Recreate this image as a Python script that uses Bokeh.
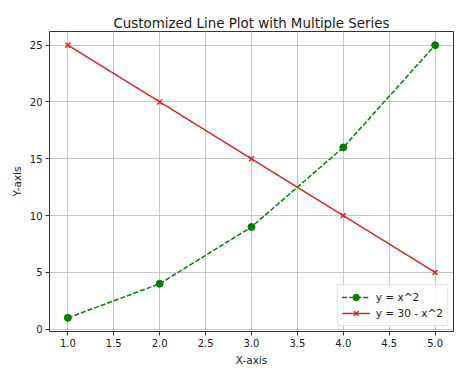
from bokeh.plotting import figure
from bokeh.models import Range1d, FixedTicker, Legend, LegendItem
from bokeh.embed import file_html
from bokeh.resources import INLINE

x = [1, 2, 3, 4, 5]
y_sq = [1, 4, 9, 16, 25]
y_dec = [25, 20, 15, 10, 5]
x_ticks = [1.0, 1.5, 2.0, 2.5, 3.0, 3.5, 4.0, 4.5, 5.0]
y_ticks = [0, 5, 10, 15, 20, 25]
title = "Customized Line Plot with Multiple Series"
labels = ["y = x^2", "y = 30 - x^2"]

FONT = "DejaVu Sans"

p = figure(width=474, height=377, output_backend="svg", toolbar_location=None,
           x_range=Range1d(0.8, 5.2), y_range=Range1d(-0.2, 26.2),
           min_border_left=49, min_border_right=21, min_border_top=31, min_border_bottom=46)
p.title.text = title
p.title.align = "center"
p.title.text_font = FONT
p.title.text_font_size = "13.4px"
p.title.text_font_style = "normal"
p.title.text_color = "#1a1a1a"
p.title.standoff = 2

p.background_fill_color = "white"
p.border_fill_color = "white"
p.outline_line_color = "#333333"
p.outline_line_width = 1

p.xaxis.ticker = FixedTicker(ticks=x_ticks)
p.yaxis.ticker = FixedTicker(ticks=y_ticks)
p.xaxis.major_label_overrides = {t: f"{t:.1f}" for t in x_ticks}
for ax in (p.xaxis[0], p.yaxis[0]):
    ax.axis_line_color = None
    ax.major_tick_in = 0
    ax.major_tick_out = 4
    ax.major_tick_line_color = "#333333"
    ax.minor_tick_line_color = None
    ax.major_label_text_font = FONT
    ax.major_label_text_font_size = "10px"
    ax.major_label_text_color = "#1a1a1a"
    ax.axis_label_text_font = FONT
    ax.axis_label_text_font_size = "10.5px"
    ax.axis_label_text_font_style = "normal"
    ax.axis_label_text_color = "#1a1a1a"
    ax.major_label_standoff = 3
    ax.axis_label_standoff = 4
p.xaxis.axis_label = "X-axis"
p.yaxis.axis_label = "Y-axis"

p.grid.grid_line_color = "#b0b0b0"
p.grid.grid_line_alpha = 0.7
p.grid.grid_line_width = 1

l1 = p.line(x, y_sq, line_color="green", line_dash="5 2", line_width=1.5)
m1 = p.scatter(x, y_sq, marker="circle", size=7, fill_color="green", line_color="green")
l2 = p.line(x, y_dec, line_color="#d62728", line_width=1.5)
m2 = p.scatter(x, y_dec, marker="x", size=7, line_color="#d62728", line_width=1.5)

legend = Legend(items=[LegendItem(label=labels[0], renderers=[l1, m1]),
                       LegendItem(label=labels[1], renderers=[l2, m2])],
                location="bottom_right")
legend.label_text_font = FONT
legend.label_text_font_size = "10.5px"
legend.label_text_color = "#1a1a1a"
legend.border_line_color = "#cccccc"
legend.border_line_width = 1
legend.background_fill_alpha = 0.8
legend.spacing = 0
legend.padding = 4
legend.margin = 5
legend.glyph_width = 28
legend.glyph_height = 16
legend.label_height = 16
legend.label_standoff = 6
p.add_layout(legend)

open("out.html", "w").write(file_html(p, INLINE))
